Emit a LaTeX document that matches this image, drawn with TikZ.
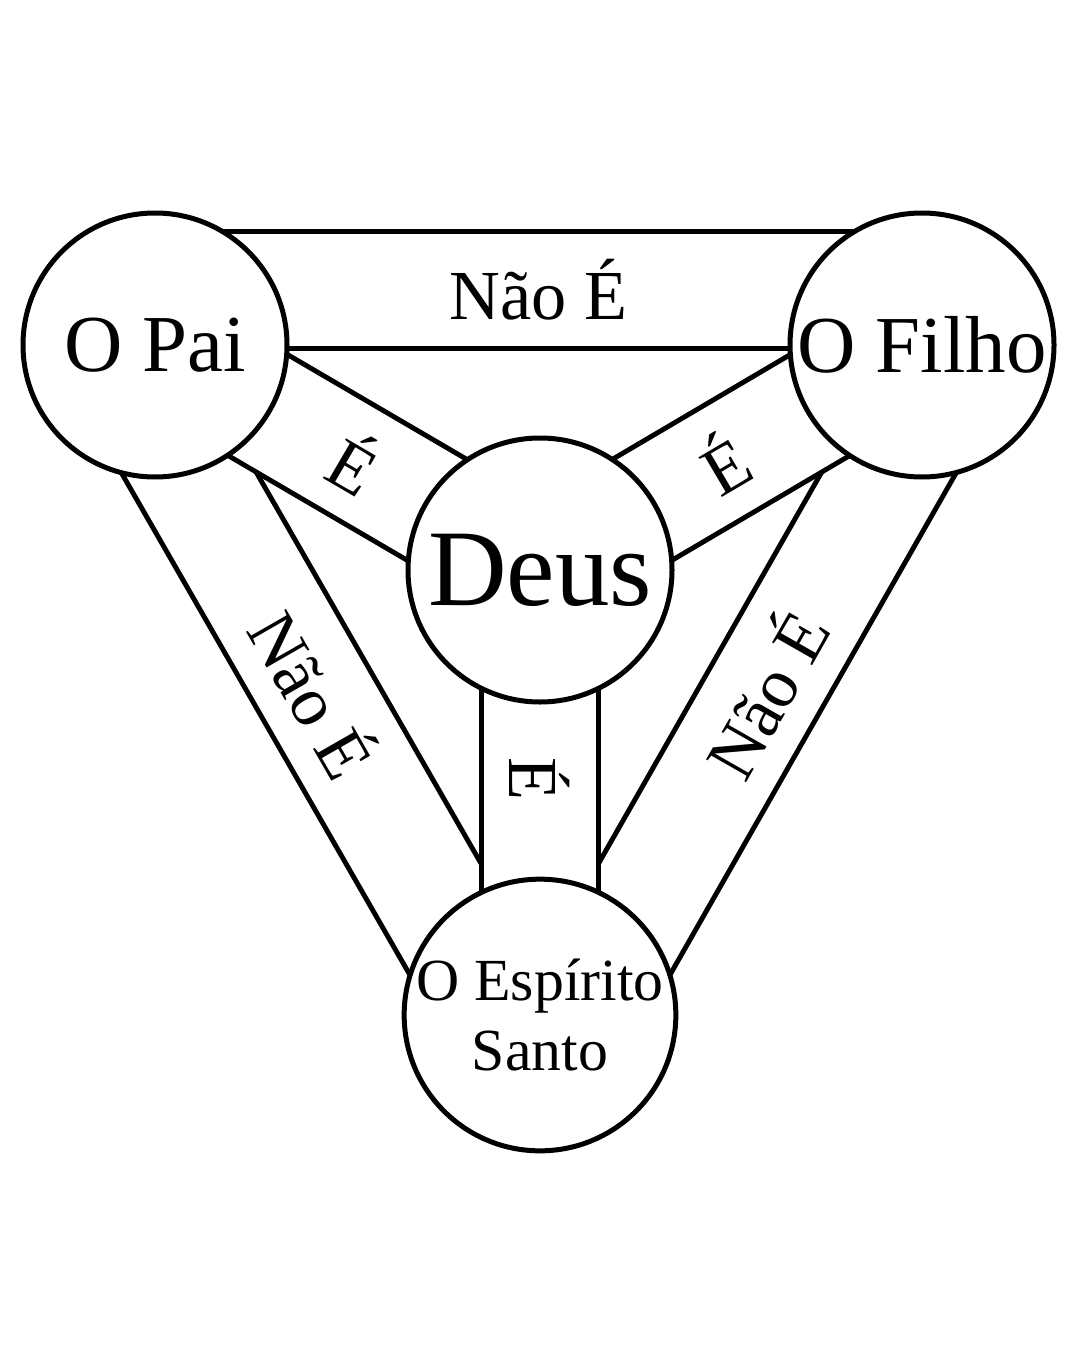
\documentclass[tikz,border=0pt]{standalone}
\usepackage{fontspec}
\setmainfont{Liberation Serif}
\usetikzlibrary{positioning}

\tikzset{
  person/.style={circle, draw, line width=0.5mm, fill=white, minimum size=26.4mm, inner sep=0pt, align=center},
  band/.style={line width=0.5mm, double=white, double distance=11.2mm},
  bandshadow/.style={line width=12.2mm, draw=black!45, opacity=0.6},
  lbl/.style={font=\fontsize{20pt}{20pt}\selectfont, sloped},
}

\begin{document}
\begin{tikzpicture}[x=0.1mm, y=-0.1mm]
  \useasboundingbox (0,0) rectangle (1080,1350);
  \fill[white] (0,0) rectangle (1080,1350);

  \coordinate (cpai) at (155,345);
  \coordinate (cfilho) at (922,345);
  \coordinate (cdeus) at (540,570);
  \coordinate (cesp) at (540,1015);

  % shadows
  \begin{scope}[shift={(10,10)}]
    \draw[bandshadow] ([yshift=5.5mm]cpai) -- ([yshift=5.5mm]cfilho);
    \draw[bandshadow] ([shift={(-5.9mm,3.4mm)}]cpai) -- ([shift={(-5.9mm,3.4mm)}]cesp);
    \draw[bandshadow] ([shift={(5.9mm,3.4mm)}]cfilho) -- ([shift={(5.9mm,3.4mm)}]cesp);
    \draw[bandshadow] (cpai) -- (cdeus) -- (cfilho);
    \draw[bandshadow] (cdeus) -- (cesp);
    \foreach \c in {cpai, cfilho, cdeus, cesp}
      \fill[black!45, opacity=0.6] (\c) circle (13.4mm);
  \end{scope}

  % bands
  \draw[band] ([yshift=5.5mm]cpai) -- node[lbl] {Não É} ([yshift=5.5mm]cfilho);
  \draw[band] ([shift={(-5.9mm,3.4mm)}]cpai) -- node[lbl, pos=0.57] {Não É} ([shift={(-5.9mm,3.4mm)}]cesp);
  \draw[band] ([shift={(5.9mm,3.4mm)}]cesp) -- node[lbl, pos=0.43] {Não É} ([shift={(5.9mm,3.4mm)}]cfilho);
  \draw[band] (cpai) -- node[lbl, pos=0.52] {É} (cdeus);
  \draw[band] (cdeus) -- node[lbl, pos=0.48] {É} (cfilho);
  \draw[band] (cdeus) -- node[lbl, pos=0.47] {É} (cesp);

  % circles
  \node[person, font=\fontsize{23pt}{23pt}\selectfont] (pai) at (cpai) {O Pai};
  \node[person, font=\fontsize{23pt}{23pt}\selectfont] (filho) at (cfilho) {O Filho};
  \node[person, font=\fontsize{31pt}{31pt}\selectfont] (deus) at (cdeus) {Deus};
  \node[person, font=\fontsize{17pt}{20pt}\selectfont] (esp) at (cesp) {O Espírito\\Santo};
\end{tikzpicture}
\end{document}
